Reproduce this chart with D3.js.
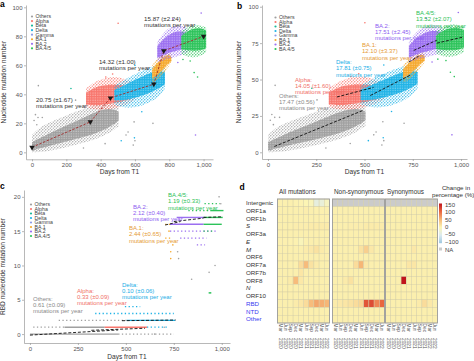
<!DOCTYPE html>
<html>
<head>
<meta charset="utf-8">
<script src="https://cdn.jsdelivr.net/npm/d3@7"></script>
<style>
body { margin: 0; background: #fff; }
svg { display: block; font-family: "Liberation Sans", Arial, sans-serif; }
</style>
</head>
<body>
<svg id="fig" width="474" height="361"></svg>
<script>
// ---------- data ----------
const variants = ['Others', 'Alpha', 'Beta', 'Delta', 'Gamma', 'BA.1', 'BA.2', 'BA.4/5']
const variantColors = ['#a0a0a0', '#f8766d', '#1bb99a', '#20b3e6', '#8f9be6', '#f5a82c', '#9b6ff0', '#2cc35a']
const labelColors = ['#8a8a8a', '#f07068', '#1bb99a', '#1aaee6', '#8f9be6', '#e59a35', '#8e5cf0', '#2bbf55']

// point clouds (a, b): [day, outer low, inner low, inner high, outer high]
const othersBand = [[0, 0, 1, 7, 12], [50, 0, 3, 10, 18], [150, 2, 6, 16, 23], [250, 5, 9, 21, 28], [350, 8, 12, 27, 32], [450, 13, 17, 31, 36], [505, 18, 22, 28, 32]]
const alphaBand = [[315, 31, 33, 41, 44], [380, 29, 32, 46, 50], [480, 30, 34, 47, 53], [560, 33, 36, 46, 50], [605, 37, 39, 44, 46]]
const deltaBand = [[480, 33, 36, 43, 46], [550, 30, 36, 47, 51], [650, 32, 39, 53, 57], [740, 38, 44, 57, 61], [775, 44, 47, 55, 58]]
const ba1Band = [[700, 48, 51, 57, 60], [740, 50, 54, 63, 66], [790, 58, 61, 68, 70], [812, 62, 63, 66, 68]]
const ba2Band = [[730, 62, 65, 73, 76], [780, 64, 68, 80, 85], [840, 66, 70, 84, 88], [900, 68, 72, 83, 87], [925, 71, 73, 80, 82]]
const ba45Band = [[870, 68, 71, 80, 83], [920, 65, 70, 85, 88], [980, 66, 70, 86, 88], [1015, 69, 72, 84, 86]]
// isolated points: [day, mutations, variant index]
const outliers = [[37, 46, 0], [227, 44, 2], [502, 89, 1], [426, 6, 0], [548, 12, 0], [560, 14, 0], [597, 10, 3],
  [600, 8, 0], [595, 21, 0], [705, 20, 0], [986, 96, 6], [953, 12, 6], [945, 55, 7], [965, 52, 7], [922, 63, 7],
  [590, 5, 0], [520, 8, 3], [254, 36, 0], [20, 26, 0], [12, 22, 0], [35, 24, 0], [28, 19, 0], [60, 24, 0], [880, 64, 7],
  [300, 3, 0], [480, 20, 0], [640, 28, 3], [600, 60, 3], [470, 54, 1], [430, 52, 1], [850, 62, 6], [820, 92, 6]]

// panel a piecewise fit
const fitNodesA = [[0, 3.5], [340, 21], [457, 37.5], [710, 47], [768, 70], [1000, 80]]
const ratesA = ['15.87 (±2.24)', '14.32 (±1.00)', '20.75 (±1.67)']

// panel b fits: [variant, day0, value0, day1, value1]
const fitsB = [[0, 33, 4, 496, 29], [1, 357, 38, 547, 44.6], [3, 530, 39, 737, 53], [5, 729, 62, 780, 66], [6, 755, 70, 875, 77], [7, 875, 75, 1005, 79]]
const ratesB = [[7, '13.52 (±2.07)'], [6, '17.51 (±2.45)'], [5, '12.10 (±3.37)'], [3, '17.81 (±0.75)'], [1, '14.05 (±1.60)'], [0, '17.47 (±0.56)']]

// panel c: runs of points on integer levels [variant, level, day0, day1]
const denseRunsC = [[0, 0, 0, 460], [0, 1, 180, 390], [1, 1, 390, 610], [3, 2, 505, 757],
  [6, 16, 730, 905], [7, 16, 905, 1000], [6, 17, 765, 913], [7, 17, 905, 1005], [7, 18, 940, 1009]]
const sparseRunsC = [[0, 0, 460, 750], [0, 1, 17, 180], [3, 1, 610, 720], [0, 2, 150, 505], [3, 3, 340, 750],
  [3, 4, 495, 575], [6, 13, 870, 913], [6, 14, 783, 920], [5, 14, 705, 740], [6, 15, 730, 975], [7, 15, 905, 957],
  [5, 16, 705, 740], [7, 18, 826, 940], [7, 19, 910, 990]]
const pointsC = [[734, 11, 5], [734, 12, 5], [745, 13, 5], [770, 12, 0], [775, 11, 0], [843, 8, 0], [934, 9, 0],
  [965, 10, 0], [935, 6, 7], [942, 6, 7], [986, 20, 0], [995, 19, 0], [725, 15, 5], [650, 0, 0], [700, 1, 0]]
const fitsC = [[0, 0, -0.15, 460, 0.6], [1, 320, 0.55, 600, 0.85], [3, 480, 1.95, 760, 2.05], [5, 705, 15.9, 785, 16.4], [6, 750, 16.4, 905, 16.9], [7, 905, 17.0, 1005, 17.1]]
const ratesC = [[7, '1.19 (±0.33)'], [6, '2.12 (±0.40)'], [5, '2.44 (±0.65)'], [3, '0.10 (±0.06)'], [1, '0.33 (±0.09)'], [0, '0.61 (±0.09)']]

// panel d heatmap
const genes = ['Intergenic', 'ORF1a', 'ORF1b', 'S', 'ORF3a', 'E', 'M', 'ORF6', 'ORF7a', 'ORF7b', 'ORF8', 'N', 'ORF10', 'RBD', 'NTD', 'Other']
const months = ['Mar', 'Jun', 'Sep', 'Dec', 'Mar', 'Jun', 'Sep', 'Dec', 'Mar', 'Jun']
const years = ['2020', '2020', '2020', '2020', '2021', '2021', '2021', '2021', '2022', '2022']
const heatTitles = ['All mutations', 'Non-synonymous', 'Synonymous']
const allMut = [
  [4, 4, 5, 3, 2, 0, -5, -35, -30, -10],
  [5, 5, 5, 5, 5, 6, 5, 4, 4, 5],
  [5, 5, 5, 5, 5, 5, 5, 5, 4, 4],
  [5, 5, 5, 6, 6, 6, 8, 8, 8, 8],
  [5, 5, 5, 5, 5, 5, 5, 5, 5, 5],
  [4, 4, 3, 3, -5, 4, 5, 5, 5, 5],
  [5, 5, 5, 5, 5, 8, 10, 15, 8, 5],
  [5, 5, 5, 5, 5, 5, 5, 5, 5, 5],
  [5, 5, 5, 5, 20, 45, 15, 8, 5, 5],
  [5, 5, 5, 5, 12, 5, 5, 5, 5, 5],
  [5, 5, 8, 45, 10, 5, 5, 5, 5, 5],
  [5, 5, 5, 5, 5, 5, 5, 5, 5, 5],
  [5, 5, 5, 5, 5, 5, 5, 5, 5, 5],
  [5, 5, 5, 8, 12, 20, 45, 60, 55, 50],
  [5, 5, 5, 5, 5, 5, 5, 5, 5, 5],
  [5, 5, 5, 5, 5, 5, 5, 5, 5, 5]
]
const nonSyn = [
  [null, null, null, null, null, null, null, null, null, null],
  [5, 5, 5, 5, 5, 5, 5, 5, 5, 5],
  [5, 5, 5, 5, 5, 5, 5, 5, 5, 5],
  [5, 5, 5, 6, 6, 6, 8, 8, 8, 8],
  [5, 5, 5, 5, 5, 5, 5, 5, 5, 5],
  [5, 5, 5, 5, 5, 5, 5, 5, 5, 5],
  [5, 5, 5, 5, 5, 15, 30, 10, 5, 5],
  [5, 5, 5, 5, 5, 5, 5, 5, 5, 5],
  [5, 5, 5, 5, 20, 50, 10, 5, 5, 5],
  [5, 5, 5, 5, 5, 5, 5, 5, 5, 5],
  [5, 5, 8, 15, 5, 5, 5, 5, 5, 5],
  [5, 5, 5, 5, 5, 5, 5, 5, 5, 5],
  [5, 5, 5, 5, 5, 5, 5, 5, 5, 5],
  [8, 10, 12, 15, 20, 25, 110, 115, 80, 100],
  [5, 5, 5, 5, 5, 5, 5, 5, 5, 5],
  [5, 5, 5, 5, 5, 5, 5, 5, 5, 5]
]
const syn = [
  [null, null, null, null, null, null, null, null, null, null],
  [5, 5, 5, 5, 5, 5, 5, 5, 5, 5],
  [5, 5, 5, 5, 5, 5, 5, 5, 5, 5],
  [5, 5, 5, 5, 5, 5, 5, 5, 5, 5],
  [5, 5, 5, 5, 5, 5, 5, 5, 5, 5],
  [5, 5, 5, 5, 5, 5, 5, 5, 5, 5],
  [5, 5, 5, 5, 5, 10, 5, 5, 5, 5],
  [5, 5, 5, 5, 5, 5, 5, 5, 5, 5],
  [5, 5, 5, 5, 12, 12, 5, 5, 5, 5],
  [5, 5, 5, 5, 5, 5, 5, 5, 5, 5],
  [5, 5, 5, 150, 5, 5, 5, 5, 5, 5],
  [5, 5, 5, 5, 5, 5, 5, 5, 5, 5],
  [5, 5, 5, 5, 5, 5, 5, 5, 5, 5],
  [5, 5, 5, 5, 5, 5, 8, 20, 10, 5],
  [5, 5, 5, 5, 5, 5, 5, 5, 5, 5],
  [5, 5, 5, 5, 5, 5, 5, 5, 5, 5]
]
const legendTicks = [150, 100, 50, 0, -50, -100]

// ---------- drawing ----------
let svg = d3.select('#fig')
let defs = svg.append('defs')
let fmt = d3.format(',')

// dotted textures for the point clouds
variantColors.forEach((c, i) => {
  let dense = defs.append('pattern').attr('id', 'pd' + i)
    .attr('patternUnits', 'userSpaceOnUse').attr('width', 2.4).attr('height', 2.4)
  dense.append('rect').attr('width', 2.4).attr('height', 2.4).attr('fill', c)
  dense.append('circle').attr('cx', 1.7).attr('cy', 1.7).attr('r', 0.45).attr('fill', '#fff').attr('opacity', 0.8)
  let sparse = defs.append('pattern').attr('id', 'ps' + i)
    .attr('patternUnits', 'userSpaceOnUse').attr('width', 3).attr('height', 3)
  sparse.append('circle').attr('cx', 0.8).attr('cy', 0.8).attr('r', 0.7).attr('fill', c)
  sparse.append('circle').attr('cx', 2.3).attr('cy', 2.2).attr('r', 0.6).attr('fill', c)
})

let panelLabel = (txt, x, y) => {
  svg.append('text').attr('x', x).attr('y', y).text(txt)
    .attr('font-size', 8.5).attr('font-weight', 'bold').attr('fill', '#000')
}

let drawAxes = (x, y, xTicks, yTicks, yTitle, yTitleX, xTitleY) => {
  let [x0, x1] = x.range()
  let [y0, y1] = y.range()
  let gx = svg.append('g').attr('transform', 'translate(0,' + y0 + ')')
    .call(d3.axisBottom(x).tickValues(xTicks).tickFormat(fmt).tickSize(2).tickSizeOuter(0).tickPadding(1.5))
  let gy = svg.append('g').attr('transform', 'translate(' + x0 + ',0)')
    .call(d3.axisLeft(y).tickValues(yTicks).tickSize(2).tickSizeOuter(0).tickPadding(1.5))
  for (let g of [gx, gy]) {
    g.selectAll('path, line').attr('stroke', '#9a9a9a').attr('stroke-width', 0.7)
    g.selectAll('text').attr('font-size', 6).attr('fill', '#555').attr('font-family', null)
  }
  svg.append('text').attr('x', (x0 + x1) / 2).attr('y', xTitleY).attr('text-anchor', 'middle')
    .attr('font-size', 6.6).attr('fill', '#333').text('Days from T1')
  svg.append('text').attr('transform', 'translate(' + yTitleX + ',' + (y0 + y1) / 2 + ') rotate(-90)')
    .attr('text-anchor', 'middle').attr('font-size', 6.6).attr('fill', '#333').text(yTitle)
}

let drawLegend = (lx, ly, step) => {
  variants.forEach((v, i) => {
    svg.append('circle').attr('cx', lx).attr('cy', ly + i * step).attr('r', 1.1).attr('fill', variantColors[i])
    svg.append('text').attr('x', lx + 3.5).attr('y', ly + i * step).attr('dy', '0.35em')
      .attr('font-size', 5.2).attr('fill', '#444').text(v)
  })
}

let bands = [[0, othersBand], [1, alphaBand], [3, deltaBand], [5, ba1Band], [6, ba2Band], [7, ba45Band]]

let drawClouds = (x, y) => {
  bands.forEach(([vi, band]) => {
    let outer = d3.area().x(d => x(d[0])).y0(d => y(d[1])).y1(d => y(d[4])).curve(d3.curveBasis)
    let inner = d3.area().x(d => x(d[0])).y0(d => y(d[2])).y1(d => y(d[3])).curve(d3.curveBasis)
    svg.append('path').attr('d', outer(band)).attr('fill', 'url(#ps' + vi + ')')
    svg.append('path').attr('d', inner(band)).attr('fill', 'url(#pd' + vi + ')')
  })
  svg.append('g').selectAll('circle').data(outliers).enter().append('circle')
    .attr('cx', d => x(d[0])).attr('cy', d => y(d[1])).attr('r', 0.8)
    .attr('fill', d => variantColors[d[2]])
}

let drawRate = (x, y, lines, color, fs) => {
  lines.forEach((t, k) => {
    svg.append('text').attr('x', x).attr('y', y + k * 6.2).attr('dy', '0.35em')
      .attr('font-size', fs).attr('fill', color).text(t)
  })
}

// ---- panel a ----
let xA = d3.scaleLinear().domain([-35, 1055]).range([26, 213])
let yA = d3.scaleLinear().domain([-4.8, 101.6]).range([159.3, 5])
drawClouds(xA, yA)
svg.append('path').attr('d', d3.line().x(d => xA(d[0])).y(d => yA(d[1]))(fitNodesA))
  .attr('fill', 'none').attr('stroke', '#a02c2c').attr('stroke-width', 0.9).attr('stroke-dasharray', '2.5,1.5')
svg.append('g').selectAll('path').data(fitNodesA).enter().append('path')
  .attr('d', d3.symbol(d3.symbolTriangle, 13))
  .attr('transform', d => 'translate(' + xA(d[0]) + ',' + yA(d[1]) + ') rotate(180)')
  .attr('fill', '#1a1a1a')
drawAxes(xA, yA, [0, 200, 400, 600, 800, 1000], [0, 20, 40, 60, 80, 100], 'Nucleotide mutation number', 5.5, 174)
drawLegend(32, 16.5, 4.55)
let anchorsA = [[653, 91.9], [390, 62.3], [23, 36.1]]
ratesA.forEach((r, i) => drawRate(xA(anchorsA[i][0]), yA(anchorsA[i][1]), [r, 'mutations per year'], '#333', 6.2))
panelLabel('a', 0, 6.5)

// ---- panel b ----
let xB = d3.scaleLinear().domain([-31, 1031]).range([262, 467])
let yB = d3.scaleLinear().domain([-4.6, 101.2]).range([159, 5])
drawClouds(xB, yB)
svg.append('g').selectAll('line').data(fitsB).enter().append('line')
  .attr('x1', d => xB(d[1])).attr('y1', d => yB(d[2])).attr('x2', d => xB(d[3])).attr('y2', d => yB(d[4]))
  .attr('stroke', '#111').attr('stroke-width', 0.9).attr('stroke-dasharray', '3,1.6')
drawAxes(xB, yB, [0, 250, 500, 750, 1000], [0, 25, 50, 75, 100], 'Nucleotide mutation number', 240.5, 174)
drawLegend(275.5, 17.5, 4.5)
let anchorsB = [[767, 95.7], [554, 86.8], [487, 73.7], [352, 62.0], [140, 49.7], [57, 38.7]]
ratesB.forEach(([vi, r], i) => drawRate(xB(anchorsB[i][0]), yB(anchorsB[i][1]), [variants[vi] + ':', r, 'mutations per year'], labelColors[vi], 6))
panelLabel('b', 237, 8.5)

// ---- panel c ----
let xC = d3.scaleLinear().domain([-31, 1043]).range([24, 230])
let yC = d3.scaleLinear().domain([-1.3, 21]).range([343, 190])
svg.append('g').selectAll('line').data(sparseRunsC).enter().append('line')
  .attr('x1', d => xC(d[2])).attr('x2', d => xC(d[3])).attr('y1', d => yC(d[1])).attr('y2', d => yC(d[1]))
  .attr('stroke', d => variantColors[d[0]]).attr('stroke-width', 1.3).attr('stroke-dasharray', '1.3,2.4')
svg.append('g').selectAll('line').data(denseRunsC).enter().append('line')
  .attr('x1', d => xC(d[2])).attr('x2', d => xC(d[3])).attr('y1', d => yC(d[1])).attr('y2', d => yC(d[1]))
  .attr('stroke', d => variantColors[d[0]]).attr('stroke-width', 1.4)
svg.append('g').selectAll('circle').data(pointsC).enter().append('circle')
  .attr('cx', d => xC(d[0])).attr('cy', d => yC(d[1])).attr('r', 0.8).attr('fill', d => variantColors[d[2]])
svg.append('g').selectAll('line').data(fitsC).enter().append('line')
  .attr('x1', d => xC(d[1])).attr('y1', d => yC(d[2])).attr('x2', d => xC(d[3])).attr('y2', d => yC(d[4]))
  .attr('stroke', '#111').attr('stroke-width', 0.9).attr('stroke-dasharray', '3,1.8')
drawAxes(xC, yC, [0, 250, 500, 750, 1000], [0, 5, 10, 15, 20], 'RBD nucleotide mutation number', 4.5, 359)
drawLegend(31, 204.5, 4.5)
let anchorsC = [[720, 20.27], [537, 18.6], [516, 15.46], [480, 7.16], [245, 6.28], [16, 5.12]]
ratesC.forEach(([vi, r], i) => drawRate(xC(anchorsC[i][0]), yC(anchorsC[i][1]), [variants[vi] + ':', r, 'mutations per year'], labelColors[vi], 6))
panelLabel('c', 0, 188.5)

// ---- panel d ----
let color = d3.scaleLinear().domain([-100, -50, 0, 50, 100, 150])
  .range(['#9fc8e0', '#dcebf0', '#fcf5b4', '#f6b676', '#e9663f', '#c0141c'])
let yD = d3.scaleBand().domain(genes).range([199, 323])
let panelX = [277.5, 332.5, 385.5]
let matrices = [allMut, nonSyn, syn]
matrices.forEach((m, p) => {
  let xD = d3.scaleBand().domain(d3.range(months.length)).range([panelX[p], panelX[p] + 52])
  let cells = []
  m.forEach((row, r) => row.forEach((v, c) => cells.push({ gene: genes[r], col: c, v: v })))
  svg.append('g').selectAll('rect').data(cells).enter().append('rect')
    .attr('x', d => xD(d.col)).attr('y', d => yD(d.gene))
    .attr('width', xD.bandwidth()).attr('height', yD.bandwidth())
    .attr('fill', d => d.v === null ? '#cbcbcb' : color(d.v))
    .attr('stroke', '#d5cea4').attr('stroke-width', 0.45)
  svg.append('rect').attr('x', panelX[p]).attr('y', 199).attr('width', 52).attr('height', 124)
    .attr('fill', 'none').attr('stroke', '#9c9c9c').attr('stroke-width', 0.9)
  svg.append('text').attr('x', panelX[p] + 1.5).attr('y', 192).attr('dy', '0.35em')
    .attr('font-size', 6.4).attr('fill', '#333').text(heatTitles[p])
  months.forEach((mo, c) => {
    let cx = xD(c) + xD.bandwidth() / 2
    svg.append('text').attr('transform', 'translate(' + (cx - 1.6) + ',323.5) rotate(90)')
      .attr('font-size', 4.8).attr('fill', '#555').text(mo)
    svg.append('text').attr('transform', 'translate(' + (cx - 1.6) + ',338) rotate(90)')
      .attr('font-size', 4.8).attr('fill', '#555').text(years[c])
  })
})
genes.forEach(g => {
  let italic = ['S', 'E', 'M', 'N'].includes(g)
  svg.append('text').attr('x', 246).attr('y', yD(g) + yD.bandwidth() / 2).attr('dy', '0.35em')
    .attr('font-size', 6.2).attr('font-style', italic ? 'italic' : 'normal')
    .attr('fill', ['RBD', 'NTD', 'Other'].includes(g) ? '#3b3bf0' : '#333').text(g)
})

// colour legend
let yL = d3.scaleLinear().domain([150, -100]).range([205, 241.7])
let grad = defs.append('linearGradient').attr('id', 'cbar').attr('x1', 0).attr('x2', 0).attr('y1', 0).attr('y2', 1)
d3.range(150, -101, -25).forEach(v => {
  grad.append('stop').attr('offset', (150 - v) / 250).attr('stop-color', color(v))
})
svg.append('rect').attr('x', 439).attr('y', yL(150) - 1.5).attr('width', 3).attr('height', yL(-100) - yL(150) + 3)
  .attr('fill', 'url(#cbar)')
legendTicks.forEach(t => {
  svg.append('text').attr('x', 445).attr('y', yL(t)).attr('dy', '0.35em')
    .attr('font-size', 6).attr('fill', '#444').text(d3.format('')(t).replace('-', '\u2212'))
})
svg.append('rect').attr('x', 439).attr('y', 247.5).attr('width', 3).attr('height', 3).attr('fill', '#cbcbcb')
svg.append('text').attr('x', 445).attr('y', 249.5).attr('dy', '0.35em').attr('font-size', 6).attr('fill', '#444').text('NA')
svg.append('text').attr('x', 456).attr('y', 187.5).attr('dy', '0.35em').attr('text-anchor', 'middle')
  .attr('font-size', 6.2).attr('fill', '#333').text('Change in')
svg.append('text').attr('x', 432).attr('y', 195).attr('dy', '0.35em')
  .attr('font-size', 6.2).attr('fill', '#333').text('percentage (%)')
panelLabel('d', 239.5, 190)
</script>
</body>
</html>
